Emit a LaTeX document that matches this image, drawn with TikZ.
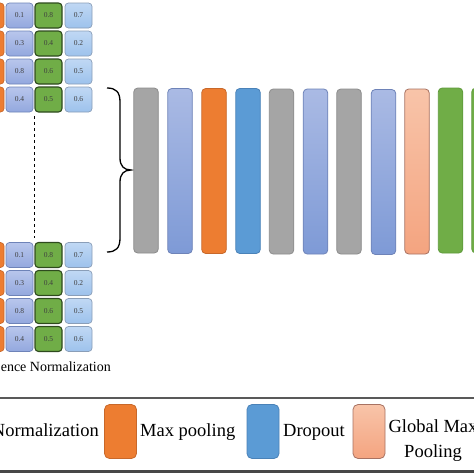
\documentclass[tikz,border=0pt]{standalone}
\usepackage{fontspec}
\setmainfont{Liberation Serif}
\definecolor{cgray}{HTML}{A5A5A5}
\definecolor{cgrayB}{HTML}{8C8C8C}
\definecolor{clavT}{HTML}{AABAE4}
\definecolor{clavB}{HTML}{7E9AD6}
\definecolor{clavE}{HTML}{6E83B8}
\definecolor{corange}{HTML}{ED7D31}
\definecolor{corangeB}{HTML}{C8682A}
\definecolor{cblue}{HTML}{5B9BD5}
\definecolor{cblueB}{HTML}{4A82B8}
\definecolor{csalT}{HTML}{F8C4A9}
\definecolor{csalB}{HTML}{F4A480}
\definecolor{csalE}{HTML}{A87262}
\definecolor{cgreen}{HTML}{70AD47}
\definecolor{cgreenB}{HTML}{5E9A3A}
\definecolor{cgreenD}{HTML}{2E4A1E}
\definecolor{ccellT}{HTML}{B8C6EC}
\definecolor{ccellB}{HTML}{93A8DE}
\definecolor{clbT}{HTML}{C0D8F4}
\definecolor{clbB}{HTML}{9DC2EC}
\definecolor{clbE}{HTML}{8A9EB8}
\begin{document}
\begin{tikzpicture}[x=1pt,y=-1pt,
  bar/.style={rounded corners=4pt, minimum width=24.5pt, minimum height=165pt, inner sep=0pt, line width=0.8pt},
  bgray/.style={bar, fill=cgray, draw=cgrayB},
  blav/.style={bar, top color=clavT, bottom color=clavB, draw=clavE},
  borange/.style={bar, fill=corange, draw=corangeB},
  bblue/.style={bar, fill=cblue, draw=cblueB},
  bsal/.style={bar, top color=csalT, bottom color=csalB, draw=csalE},
  bgreen/.style={bar, fill=cgreen, draw=cgreenB},
  cell/.style={rounded corners=3.5pt, minimum width=27pt, minimum height=25pt, inner sep=0pt, line width=0.7pt, font=\fontsize{7.5}{8}\selectfont, text=black!75},
  corg/.style={cell, fill=corange, draw=corangeB},
  clav/.style={cell, top color=ccellT, bottom color=ccellB, draw=clavE},
  cgrn/.style={cell, fill=cgreen, draw=cgreenD, line width=1.1pt},
  clb/.style={cell, top color=clbT, bottom color=clbB, draw=clbE},
  legbox/.style={rounded corners=5pt, minimum width=32pt, minimum height=54pt, inner sep=0pt, line width=0.8pt},
  legtext/.style={font=\fontsize{18.5}{25}\selectfont, inner sep=0pt}
]
\useasboundingbox (0,0) rectangle (474,474);
\fill[white] (0,0) rectangle (474,474);

% top grid
\foreach \r/\a/\b/\c [count=\i] in {0/0.1/0.8/0.7, 1/0.3/0.4/0.2, 2/0.8/0.6/0.5, 3/0.4/0.5/0.6}{
  \pgfmathsetmacro{\yy}{15.5+28*\r}
  \node[corg] (to\i) at (-9.5,\yy) {};
  \node[clav] (ta\i) at (19.5,\yy) {\a};
  \node[cgrn] (tb\i) at (48.5,\yy) {\b};
  \node[clb]  (tc\i) at (78.5,\yy) {\c};
}
% bottom grid
\foreach \r/\a/\b/\c [count=\i] in {0/0.1/0.8/0.7, 1/0.3/0.4/0.2, 2/0.8/0.6/0.5, 3/0.4/0.5/0.6}{
  \pgfmathsetmacro{\yy}{255+28*\r}
  \node[corg] (bo\i) at (-9.5,\yy) {};
  \node[clav] (ba\i) at (19.5,\yy) {\a};
  \node[cgrn] (bb\i) at (48.5,\yy) {\b};
  \node[clb]  (bc\i) at (78.5,\yy) {\c};
}
\coordinate (dtop) at (34,116);
\coordinate (dbot) at (34,238);
\draw[dashed, line width=1pt, dash pattern=on 3pt off 3pt] (dtop) -- (dbot);

\node[font=\fontsize{14}{16}\selectfont, anchor=base east, inner sep=0pt] (seqlabel) at (111,371) {ence Normalization};

% brace
\draw[line width=1.3pt] (107,88) .. controls (116,88) and (120,92) .. (120,102) -- (120,158)
  .. controls (120,166) and (124,170) .. (131,170)
  .. controls (124,170) and (120,174) .. (120,182) -- (120,238)
  .. controls (120,248) and (116,252) .. (107,252);

% bars
\node[bgray]   (l1) at (146,170.5) {};
\node[blav]    (l2) at (180,171) {};
\node[borange] (l3) at (214,171) {};
\node[bblue]   (l4) at (248,171) {};
\node[bgray]   (l5) at (281.5,171.5) {};
\node[blav]    (l6) at (315.5,171.5) {};
\node[bgray]   (l7) at (349,171.5) {};
\node[blav]    (l8) at (383.5,172) {};
\node[bsal]    (l9) at (417,171.5) {};
\node[bgreen]  (l10) at (450.5,170.5) {};
\node[bgreen]  (l11) at (484,170.5) {};

% legend frame
\coordinate (fl1) at (-5,398);
\coordinate (fr1) at (480,398);
\coordinate (fl2) at (-5,471);
\coordinate (fr2) at (480,471);
\draw[line width=1.2pt, black!65] (fl1) -- (fr1);
\draw[line width=3pt, black!72] (fl2) -- (fr2);

\node[legtext, anchor=base east] (tnorm) at (99,436) {Normalization};
\node[legbox, fill=corange, draw=corangeB] (kmax) at (120.5,431.5) {};
\node[legtext, anchor=base west] (tmax) at (140,436) {Max pooling};
\node[legbox, fill=cblue, draw=cblueB] (kdrop) at (263,431.5) {};
\node[legtext, anchor=base west] (tdrop) at (283,436) {Dropout};
\node[legbox, top color=csalT, bottom color=csalB, draw=csalE] (kgmp) at (369,431.5) {};
\node[legtext, align=center, anchor=north] (tgmp) at (433,419) {Global Max\\Pooling};
\end{tikzpicture}
\end{document}
